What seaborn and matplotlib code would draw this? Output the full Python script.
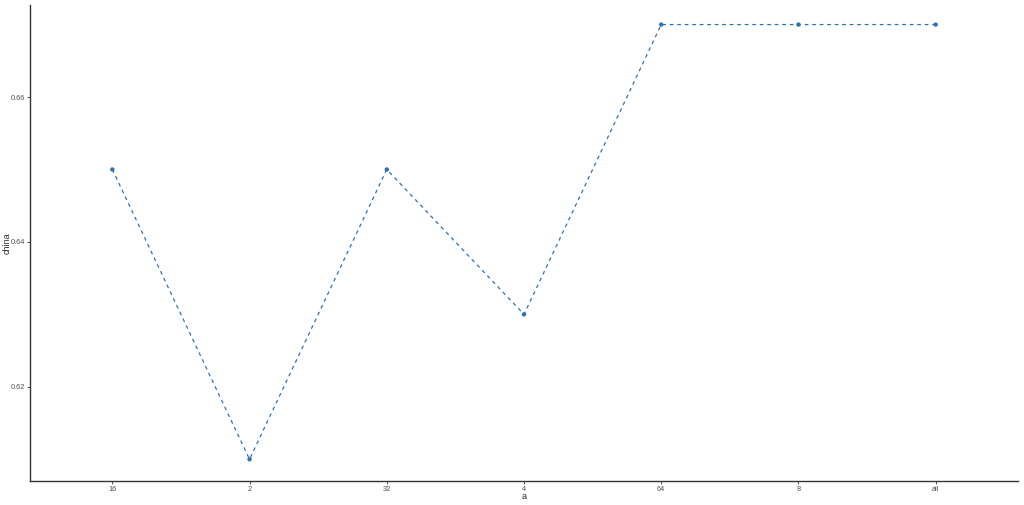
import pandas as pd
import matplotlib
matplotlib.use("Agg")
import matplotlib.pyplot as plt
import seaborn as sns

# data
a_labels = ["16", "2", "32", "4", "64", "8", "all"]
china = [0.65, 0.61, 0.65, 0.63, 0.67, 0.67, 0.67]
y_ticks = [0.62, 0.64, 0.66]

df = pd.DataFrame({"a": a_labels, "china": china})

sns.set_theme(style="white")
plt.rcParams['font.family'] = ['Liberation Sans', 'DejaVu Sans']

fig = plt.figure(figsize=(10.24, 5.05), dpi=100)
ax = fig.add_axes([30 / 1024, 24 / 505, 988 / 1024, 476 / 505])

blue = "#2f72b4"
sns.lineplot(data=df, x="a", y="china", sort=False, color=blue,
             linestyle=(0, (3, 3)), linewidth=0.9, ax=ax)
sns.scatterplot(data=df, x="a", y="china", color=blue, s=10,
                edgecolor="none", ax=ax, zorder=3)

ax.set_xlim(-0.6, len(a_labels) - 1 + 0.6)
ax.set_ylim(0.607, 0.6727)
ax.set_yticks(y_ticks)
ax.set_yticklabels([f"{t:.2f}" for t in y_ticks])

for side in ["top", "right"]:
    ax.spines[side].set_visible(False)
for side in ["left", "bottom"]:
    ax.spines[side].set_color("#333333")
    ax.spines[side].set_linewidth(1.0)

ax.tick_params(axis="both", which="both", length=2.2, width=0.6,
               colors="#333333", labelsize=5.3, labelcolor="#4d4d4d",
               direction="out", left=True, bottom=True, pad=1.5)
ax.set_xlabel("a", fontsize=6.5)
ax.set_ylabel("china", fontsize=6.5)
ax.xaxis.set_label_coords(0.5, -0.0335)
ax.yaxis.set_label_coords(-0.0233, 0.5)
ax.xaxis.label.set_va("center")
ax.yaxis.label.set_va("center")
ax.grid(False)

fig.savefig("out.png", dpi=100)
